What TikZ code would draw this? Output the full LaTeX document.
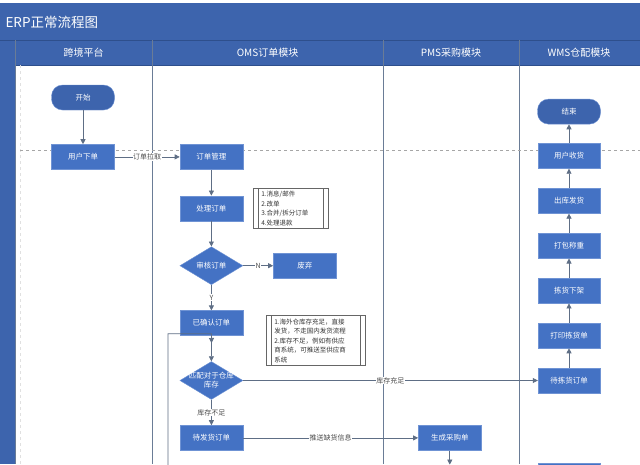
\documentclass[tikz,border=0pt]{standalone}
\usepackage{fontspec}
\setmainfont{Noto Sans CJK SC}
\usetikzlibrary{arrows.meta,positioning,shapes.geometric}
\definecolor{laneBlue}{HTML}{3D64AD}
\definecolor{laneEdge}{HTML}{2E4F8C}
\definecolor{laneRule}{HTML}{6A7C96}
\definecolor{nodeBlue}{HTML}{4472C4}
\definecolor{nodeEdge}{HTML}{6F93D4}
\definecolor{arcGray}{HTML}{5E6E85}
\tikzset{
  procbox/.style={draw=nodeEdge, fill=nodeBlue, minimum width=63pt, minimum height=25pt,
    inner sep=1pt, text=white, font=\fontsize{7.5}{9}\selectfont},
  pillbox/.style={procbox, fill=laneBlue, rounded corners=11pt},
  decisionbox/.style={procbox, diamond, aspect=1.66, minimum width=63pt, minimum height=38pt,
    inner sep=-3pt, align=center},
  notebox/.style={draw=black!60, fill=white, align=left, inner xsep=8pt, inner ysep=3pt,
    font=\fontsize{6.5}{9.5}\selectfont, text=black!80,
    path picture={
      \draw[black!60] ([xshift=5pt]path picture bounding box.north west) -- ([xshift=5pt]path picture bounding box.south west);
      \draw[black!60] ([xshift=-5pt]path picture bounding box.north east) -- ([xshift=-5pt]path picture bounding box.south east);}},
  headtext/.style={text=white, font=\fontsize{10}{12}\selectfont},
  arc/.style={-{Triangle[length=5pt,width=5pt]}, draw=arcGray, line width=0.7pt},
  arcLabel/.style={font=\fontsize{7}{8}\selectfont, text=black!70, fill=white, inner sep=0.6pt, midway},
}

\begin{document}
\begin{tikzpicture}[x=1pt, y=-1pt, node distance=25.5pt]
  \useasboundingbox (0,0) rectangle (640,464);
  \clip (0,0) rectangle (640,464);
  \fill[white] (0,0) rectangle (640,464);
  \fill[laneBlue] (0,3) rectangle (640,65);
  \fill[laneBlue] (0,40) rectangle (15,464);
  \draw[laneEdge, line width=0.8pt] (0,40) -- (640,40) (15,65) -- (640,65);
  \foreach \x in {15,152,383,519}
    \draw[laneRule, line width=0.8pt] (\x,40) -- (\x,464);
  \draw[black!12, dashed] (20,65) -- (20,464);
  \draw[black!35, dashed] (20,150) -- (640,150);
  \node[text=white, font=\fontsize{13.5}{16}\selectfont, anchor=west] (title) at (2,22) {ERP正常流程图};
  \node[headtext] (laneCb) at (83.5,53) {跨境平台};
  \node[headtext] (laneOms) at (267.5,53) {OMS订单模块};
  \node[headtext] (lanePms) at (451,53) {PMS采购模块};
  \node[headtext] (laneWms) at (579,53) {WMS仓配模块};

  \node[pillbox] (start) at (83,97.5) {开始};
  \node[procbox, below=34pt of start] (place) {用户下单};
  \node[procbox, right=65pt of place] (manage) {订单管理};
  \node[procbox, below=26pt of manage] (handle) {处理订单};
  \node[decisionbox, below=of handle] (audit) {审核订单};
  \node[procbox, right=30pt of audit] (drop) {废弃};
  \node[procbox, below=of audit] (confirm) {已确认订单};
  \node[decisionbox, below=of confirm] (match) {匹配对于仓库\\库存};
  \node[procbox, below=of match] (waitship) {待发货订单};
  \node[procbox, right=175pt of waitship] (purchase) {生成采购单};
  \node[procbox, below=14pt of purchase] (buynext) {};
  \node[notebox, text width=59pt, right=10pt of handle] (tipA) {1.消息/邮件\\2.改单\\3.合并/拆分订单\\4.处理退款};
  \node[notebox, text width=83pt, below right=5pt and 23pt of confirm.north east] (tipB)
    {1.海外仓库存充足，直接\\发货，不走国内发货流程\\2.库存不足，例如有供应\\商系统，可推送至供应商\\系统};

  \coordinate (wmscol) at (569,0);
  \node[procbox, minimum width=62pt] (waitpick) at (match -| wmscol) {待拣货订单};
  \node[procbox, minimum width=62pt, above=19.5pt of waitpick] (printpick) {打印拣货单};
  \node[procbox, minimum width=62pt, above=19.5pt of printpick] (pickdown) {拣货下架};
  \node[procbox, minimum width=62pt, above=19.5pt of pickdown] (pack) {打包称重};
  \node[procbox, minimum width=62pt, above=19.5pt of pack] (outbound) {出库发货};
  \node[procbox, minimum width=62pt, above=19.5pt of outbound] (receive) {用户收货};
  \node[pillbox, above=19pt of receive] (finish) {结束};
  \node[procbox, minimum width=62pt, below=70pt of waitpick] (wmsnext) {};

  \coordinate (loopin) at (168,480);
  \coordinate (joinin) at (211.5,343);
  \draw[arc] (start) -- (place);
  \draw[arc] (place) -- node[arcLabel] {订单拉取} (manage);
  \draw[arc] (manage) -- (handle);
  \draw[arc] (handle) -- (audit);
  \draw[arc] (audit) -- node[arcLabel] {N} (drop);
  \draw[arc] (audit) -- node[arcLabel] {Y} (confirm);
  \draw[arc] (confirm) -- (match);
  \draw[arc] (loopin) |- ([yshift=2pt]confirm.south) -- (joinin);
  \draw[arc] (match) -- node[arcLabel] {库存充足} (waitpick);
  \draw[arc] (match) -- node[arcLabel] {库存不足} (waitship);
  \draw[arc] (waitship) -- node[arcLabel] {推送缺货信息} (purchase);
  \draw[arc] (purchase) -- (buynext);
  \draw[arc] (waitpick) -- (printpick);
  \draw[arc] (printpick) -- (pickdown);
  \draw[arc] (pickdown) -- (pack);
  \draw[arc] (pack) -- (outbound);
  \draw[arc] (outbound) -- (receive);
  \draw[arc] (receive) -- (finish);
\end{tikzpicture}
\end{document}
